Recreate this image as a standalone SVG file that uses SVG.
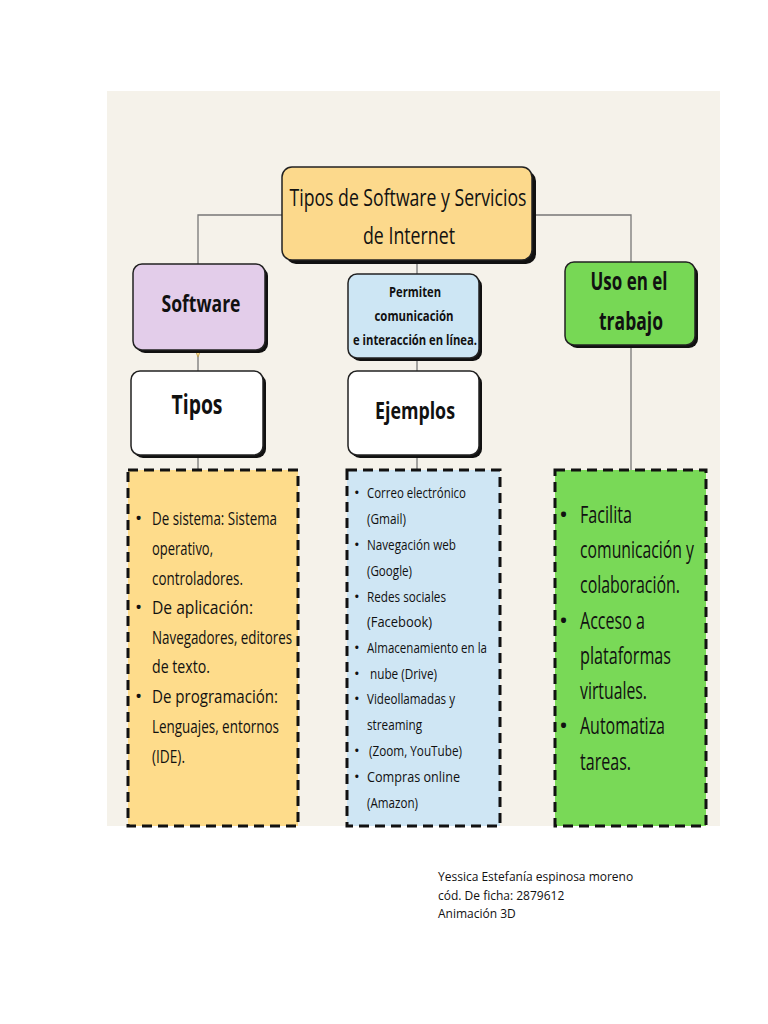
<svg xmlns="http://www.w3.org/2000/svg" width="768" height="1024" viewBox="0 0 768 1024">
<style>
text{font-family:"Open Sans","Liberation Sans",sans-serif;fill:#111}
.n{stroke:#222;stroke-width:1.5}
.sh{fill:#111}
.b{font-weight:bold}
.d{stroke:#111;stroke-width:3;stroke-dasharray:10 6}
.c{stroke:#777;stroke-width:1.3;fill:none}
.t18{font-size:19px}.t14{font-size:15px}.t22{font-size:24px}
</style>
<rect width="768" height="1024" fill="#fff"/>
<rect x="107" y="91" width="613" height="735" fill="#f5f2ea"/>
<g id="connectors">
<path class="c" d="M282 215H198V264M532 215H631V262M631 345V470M417 260V274M198 350V371M198 455V470M417 358V371M417 455V470"/>
<path d="M198 343l3 7-3 7-3-7z" fill="#fbd98a" stroke="#b99a50" stroke-width="0.8"/>
</g>
<g id="title">
<rect x="286" y="171" width="250" height="93" rx="10" class="sh"/>
<rect x="282" y="167" width="250" height="93" rx="10" fill="#fcd98c" class="n"/>
<text x="408" y="206" text-anchor="middle" font-size="24" textLength="237" lengthAdjust="spacingAndGlyphs">Tipos de Software y Servicios</text>
<text x="409" y="244" text-anchor="middle" font-size="24" textLength="92" lengthAdjust="spacingAndGlyphs">de Internet</text>
</g>
<g id="software">
<rect x="136" y="267" width="132" height="86" rx="9" class="sh"/>
<rect x="133" y="264" width="132" height="86" rx="9" fill="#e3cdea" class="n"/>
<text x="201" y="312" text-anchor="middle" font-size="23" class="b" textLength="79" lengthAdjust="spacingAndGlyphs">Software</text>
</g>
<g id="permiten">
<rect x="351" y="277" width="131" height="84" rx="9" class="sh"/>
<rect x="348" y="274" width="131" height="84" rx="9" fill="#cde6f4" class="n"/>
<text x="415" y="297" text-anchor="middle" font-size="14" class="b" textLength="52" lengthAdjust="spacingAndGlyphs">Permiten</text>
<text x="414" y="321" text-anchor="middle" font-size="14" class="b" textLength="79" lengthAdjust="spacingAndGlyphs">comunicación</text>
<text x="415" y="345" text-anchor="middle" font-size="14" class="b" textLength="124" lengthAdjust="spacingAndGlyphs">e interacción en línea.</text>
</g>
<g id="uso">
<rect x="568" y="265" width="130" height="83" rx="9" class="sh"/>
<rect x="565" y="262" width="130" height="83" rx="9" fill="#77d855" class="n"/>
<text x="629" y="290" text-anchor="middle" font-size="25" class="b" textLength="77" lengthAdjust="spacingAndGlyphs">Uso en el</text>
<text x="631" y="330" text-anchor="middle" font-size="25" class="b" textLength="64" lengthAdjust="spacingAndGlyphs">trabajo</text>
</g>
<g id="tipos">
<rect x="134" y="374" width="132" height="84" rx="9" class="sh"/>
<rect x="131" y="371" width="132" height="84" rx="9" fill="#fff" class="n"/>
<text x="197" y="414" text-anchor="middle" font-size="26" class="b" textLength="51" lengthAdjust="spacingAndGlyphs">Tipos</text>
</g>
<g id="ejemplos">
<rect x="351" y="374" width="131" height="84" rx="9" class="sh"/>
<rect x="348" y="371" width="131" height="84" rx="9" fill="#fff" class="n"/>
<text x="415" y="419" text-anchor="middle" font-size="24" class="b" textLength="80" lengthAdjust="spacingAndGlyphs">Ejemplos</text>
</g>
<g id="tipos-list">
<rect x="128" y="470" width="170" height="356" fill="#fedc8b" class="d"/>
<g class="t18">
<text x="135" y="525">•</text><text x="152" y="525" textLength="125" lengthAdjust="spacingAndGlyphs">De sistema: Sistema</text>
<text x="152" y="555" textLength="61" lengthAdjust="spacingAndGlyphs">operativo,</text>
<text x="152" y="585" textLength="91" lengthAdjust="spacingAndGlyphs">controladores.</text>
<text x="135" y="614">•</text><text x="152" y="614" textLength="101" lengthAdjust="spacingAndGlyphs">De aplicación:</text>
<text x="152" y="644" textLength="140" lengthAdjust="spacingAndGlyphs">Navegadores, editores</text>
<text x="152" y="673" textLength="58" lengthAdjust="spacingAndGlyphs">de texto.</text>
<text x="135" y="703">•</text><text x="152" y="703" textLength="126" lengthAdjust="spacingAndGlyphs">De programación:</text>
<text x="152" y="733" textLength="127" lengthAdjust="spacingAndGlyphs">Lenguajes, entornos</text>
<text x="152" y="763" textLength="33" lengthAdjust="spacingAndGlyphs">(IDE).</text>
</g>
</g>
<g id="ejemplos-list">
<rect x="347" y="470" width="153" height="356" fill="#cfe6f4" class="d"/>
<g class="t14">
<text x="354" y="498">•</text><text x="367" y="498" textLength="99" lengthAdjust="spacingAndGlyphs">Correo electrónico</text>
<text x="367" y="524" textLength="39" lengthAdjust="spacingAndGlyphs">(Gmail)</text>
<text x="354" y="550">•</text><text x="367" y="550" textLength="89" lengthAdjust="spacingAndGlyphs">Navegación web</text>
<text x="367" y="576" textLength="45" lengthAdjust="spacingAndGlyphs">(Google)</text>
<text x="354" y="602">•</text><text x="367" y="602" textLength="79" lengthAdjust="spacingAndGlyphs">Redes sociales</text>
<text x="367" y="627" textLength="65" lengthAdjust="spacingAndGlyphs">(Facebook)</text>
<text x="354" y="653">•</text><text x="367" y="653" textLength="120" lengthAdjust="spacingAndGlyphs">Almacenamiento en la</text>
<text x="354" y="679">•</text><text x="370" y="679" textLength="67" lengthAdjust="spacingAndGlyphs">nube (Drive)</text>
<text x="354" y="704">•</text><text x="367" y="704" textLength="88" lengthAdjust="spacingAndGlyphs">Videollamadas y</text>
<text x="367" y="730" textLength="55" lengthAdjust="spacingAndGlyphs">streaming</text>
<text x="354" y="756">•</text><text x="369" y="756" textLength="93" lengthAdjust="spacingAndGlyphs">(Zoom, YouTube)</text>
<text x="354" y="782">•</text><text x="367" y="782" textLength="93" lengthAdjust="spacingAndGlyphs">Compras online</text>
<text x="367" y="808" textLength="51" lengthAdjust="spacingAndGlyphs">(Amazon)</text>
</g>
</g>
<g id="uso-list">
<rect x="555" y="470" width="151" height="356" fill="#79d957" class="d"/>
<g class="t22">
<text x="559" y="523">•</text><text x="580" y="523" textLength="52" lengthAdjust="spacingAndGlyphs">Facilita</text>
<text x="580" y="558" textLength="114" lengthAdjust="spacingAndGlyphs">comunicación y</text>
<text x="580" y="593" textLength="100" lengthAdjust="spacingAndGlyphs">colaboración.</text>
<text x="559" y="629">•</text><text x="580" y="629" textLength="65" lengthAdjust="spacingAndGlyphs">Acceso a</text>
<text x="580" y="664" textLength="91" lengthAdjust="spacingAndGlyphs">plataformas</text>
<text x="580" y="699" textLength="67" lengthAdjust="spacingAndGlyphs">virtuales.</text>
<text x="559" y="734">•</text><text x="580" y="734" textLength="85" lengthAdjust="spacingAndGlyphs">Automatiza</text>
<text x="580" y="770" textLength="51" lengthAdjust="spacingAndGlyphs">tareas.</text>
</g>
</g>
<g id="footer">
<text x="438" y="881" style="font-size:12px">Yessica Estefanía espinosa moreno</text>
<text x="438" y="900" style="font-size:12px">cód. De ficha: 2879612</text>
<text x="438" y="918" style="font-size:12px">Animación 3D</text>
</g>
</svg>
